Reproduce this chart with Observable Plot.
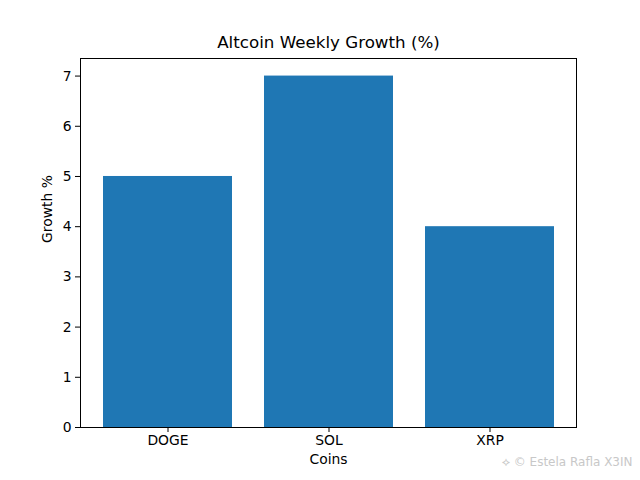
<!DOCTYPE html>
<html>
<head>
<meta charset="utf-8">
<script src="https://cdn.jsdelivr.net/npm/d3@7"></script>
<script src="https://cdn.jsdelivr.net/npm/@observablehq/plot@0.6"></script>
<style>
  html, body { margin: 0; padding: 0; background: #fff; }
</style>
</head>
<body>
<div id="chart"></div>
<script>
const coins = ["DOGE", "SOL", "XRP"];
const growth = [5, 7, 4];
const yTicks = [0, 1, 2, 3, 4, 5, 6, 7];
const titleText = "Altcoin Weekly Growth (%)";
const xLabel = "Coins";
const yLabel = "Growth %";
const watermark = "\u27E1 \u00A9 Estela Rafla X3IN";

const data = coins.map((c, i) => ({coin: c, value: growth[i]}));

const chart = Plot.plot({
  width: 640,
  height: 480,
  marginLeft: 80,
  marginRight: 64,
  marginTop: 58,
  marginBottom: 53,
  style: {fontFamily: "DejaVu Sans", fontSize: "13.9px", color: "#000", background: "#fff"},
  x: {domain: coins, paddingInner: 0.2, paddingOuter: 0.14, label: null},
  y: {domain: [0, 7.35], ticks: yTicks, label: null},
  marks: [
    Plot.barY(data, {x: "coin", y: "value", fill: "#1f77b4"}),
    Plot.axisX({tickSize: 5, tickPadding: 3, fontSize: 13.9, label: null}),
    Plot.axisY({ticks: yTicks, tickSize: 5, tickPadding: 4, fontSize: 13.9, label: null, tickFormat: d3.format("d")}),
    Plot.frame({stroke: "#000", strokeWidth: 1}),
    Plot.text([titleText], {frameAnchor: "top", dy: -22, fontSize: 16.7, text: d => d}),
    Plot.text([xLabel], {frameAnchor: "bottom", dy: 36, fontSize: 13.9, text: d => d}),
    Plot.text([yLabel], {frameAnchor: "left", dx: -33, rotate: -90, fontSize: 13.9, text: d => d}),
    Plot.text([watermark], {frameAnchor: "bottom-right", dx: 56, dy: 38, fontSize: 12, fill: "#c8c8c8", textAnchor: "end", text: d => d})
  ]
});
document.getElementById("chart").appendChild(chart);
</script>
</body>
</html>
